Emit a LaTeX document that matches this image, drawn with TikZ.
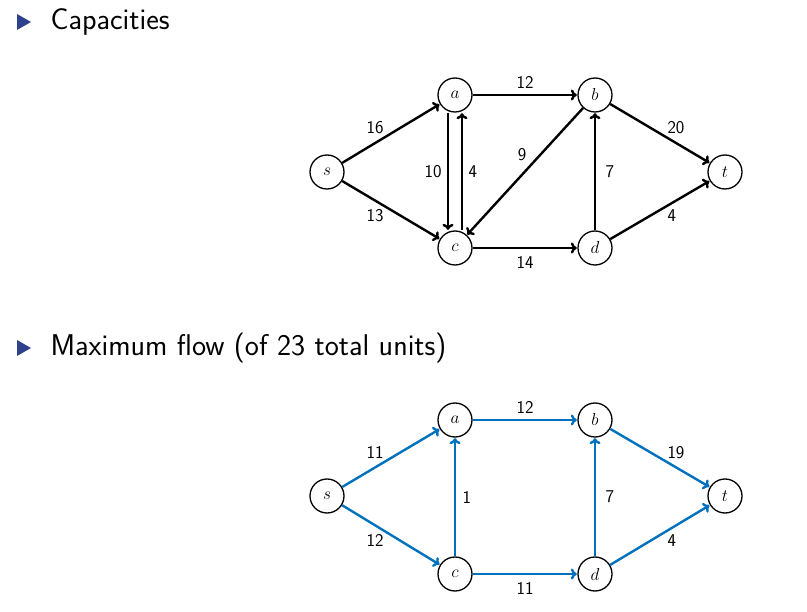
\documentclass[tikz,border=0pt]{standalone}
\usetikzlibrary{arrows.meta}
\definecolor{flowblue}{RGB}{0,114,189}
\definecolor{bulletblue}{RGB}{45,65,140}
\begin{document}
\begin{tikzpicture}[x=1pt,y=-1pt,
  vtx/.style={circle,draw,line width=1.3pt,minimum size=34pt,inner sep=0pt,font=\fontsize{19}{19}\selectfont},
  capedge/.style={line width=2.4pt,-{To[length=6pt,width=11pt]},shorten >=0.5pt},
  flw/.style={capedge,draw=flowblue},
  lab/.style={font=\sffamily\fontsize{18}{18}\selectfont},
  head/.style={font=\sffamily\fontsize{30}{30}\selectfont,anchor=west},
  bul/.style={fill=bulletblue,draw=none}]
\useasboundingbox (0,0) rectangle (807,612);
\fill[bul] (17,14) -- (31,22) -- (17,30) -- cycle;
\node[head] (h1) at (47,22) {Capacities};
\fill[bul] (17,340) -- (31,348) -- (17,356) -- cycle;
\node[head] (h2) at (47,348) {Maximum flow (of 23 total units)};
% graph 1
\node[vtx] (s) at (327,172) {$s$};
\node[vtx] (a) at (455,95) {$a$};
\node[vtx] (b) at (595,95) {$b$};
\node[vtx] (t) at (725,172) {$t$};
\node[vtx] (c) at (455,248) {$c$};
\node[vtx] (d) at (595,248) {$d$};
\draw[capedge] (s) -- (a) node[lab,pos=0.45,above left=-2pt] {16};
\draw[capedge] (s) -- (c) node[lab,pos=0.45,below left=-2pt] {13};
\draw[capedge] (a) -- (b) node[lab,midway,above=2pt] {12};
\draw[capedge] (b) -- (t) node[lab,pos=0.55,above right=-2pt] {20};
\draw[capedge] (c) -- (d) node[lab,midway,below=4pt] {14};
\draw[capedge] (d) -- (t) node[lab,pos=0.55,below right=-2pt] {4};
\draw[capedge] (d) -- (b) node[lab,midway,right=6pt] {7};
\draw[capedge] (b) -- (c) node[lab,pos=0.45,above left=0pt] {9};
\draw[capedge] ([xshift=-7pt]a.south) -- ([xshift=-7pt]c.north) node[lab,midway,left=2pt] {10};
\draw[capedge] ([xshift=7pt]c.north) -- ([xshift=7pt]a.south) node[lab,midway,right=2pt] {4};
% graph 2
\node[vtx] (s2) at (327,496) {$s$};
\node[vtx] (a2) at (455,420) {$a$};
\node[vtx] (b2) at (595,420) {$b$};
\node[vtx] (t2) at (725,496) {$t$};
\node[vtx] (c2) at (455,574) {$c$};
\node[vtx] (d2) at (595,574) {$d$};
\draw[flw] (s2) -- (a2) node[lab,pos=0.45,above left=-2pt] {11};
\draw[flw] (s2) -- (c2) node[lab,pos=0.45,below left=-2pt] {12};
\draw[flw] (a2) -- (b2) node[lab,midway,above=2pt] {12};
\draw[flw] (b2) -- (t2) node[lab,pos=0.55,above right=-2pt] {19};
\draw[flw] (c2) -- (d2) node[lab,midway,below=4pt] {11};
\draw[flw] (d2) -- (t2) node[lab,pos=0.55,below right=-2pt] {4};
\draw[flw] (d2) -- (b2) node[lab,midway,right=6pt] {7};
\draw[flw] (c2) -- (a2) node[lab,midway,right=3pt] {1};
\end{tikzpicture}
\end{document}
